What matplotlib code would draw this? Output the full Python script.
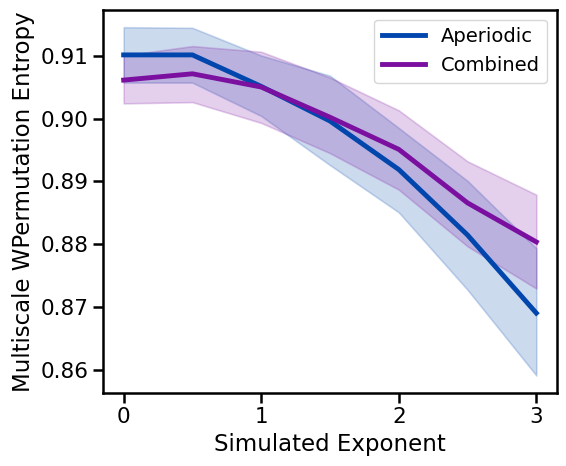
import matplotlib
matplotlib.use("Agg")
import matplotlib.pyplot as plt
import numpy as np

exponents = [0, 0.5, 1, 1.5, 2, 2.5, 3]

aper_mean = [0.9101, 0.9101, 0.9051, 0.8996, 0.8919, 0.8815, 0.8691]
aper_low = [0.9057, 0.9057, 0.9004, 0.8926, 0.8851, 0.8728, 0.8592]
aper_high = [0.9145, 0.9144, 0.9100, 0.9068, 0.8985, 0.8901, 0.8794]

comb_mean = [0.9061, 0.9071, 0.9050, 0.9002, 0.8951, 0.8866, 0.8804]
comb_low = [0.9024, 0.9026, 0.8993, 0.8945, 0.8887, 0.8797, 0.8730]
comb_high = [0.9100, 0.9115, 0.9106, 0.9065, 0.9013, 0.8932, 0.8879]

labels = ["Aperiodic", "Combined"]
colors = ["#0046AD", "#7A0FA0"]

plt.rcParams['font.family'] = ['DejaVu Sans']

fig = plt.figure(figsize=(5.66, 4.66), dpi=100)
ax = fig.add_axes([0.182, 0.157, 0.802, 0.822])

series = [(aper_mean, aper_low, aper_high), (comb_mean, comb_low, comb_high)]
for (m, lo, hi), lab, c in zip(series, labels, colors):
    ax.plot(exponents, m, color=c, lw=3.5, label=lab)
    ax.fill_between(exponents, lo, hi, color=c, alpha=0.2, lw=1.2)

ax.set_xticks([0, 1, 2, 3])
ax.set_yticks([0.86, 0.87, 0.88, 0.89, 0.90, 0.91])
ax.set_yticklabels(["0.86", "0.87", "0.88", "0.89", "0.90", "0.91"])
ax.tick_params(labelsize=15.5, length=7, width=1.8)
for s in ax.spines.values():
    s.set_linewidth(1.8)
ax.set_xlabel("Simulated Exponent", fontsize=16.5)
ax.set_ylabel("Multiscale WPermutation Entropy", fontsize=16.5)
leg = ax.legend(loc="upper right", fontsize=14, handlelength=2.2)

fig.savefig("out.png", dpi=100)
